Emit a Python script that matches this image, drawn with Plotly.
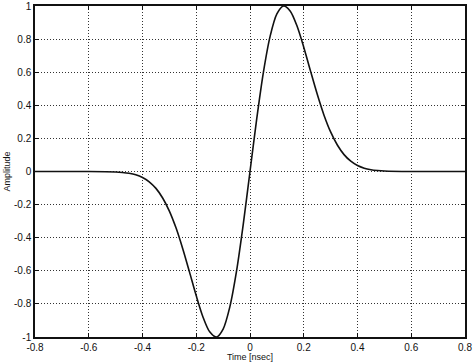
import plotly.graph_objects as go

# Time samples [nsec] and amplitude
time_ns = [-0.8, -0.7, -0.6, -0.5, -0.475, -0.45, -0.425, -0.4, -0.375, -0.35, -0.325, -0.3,
           -0.275, -0.25, -0.225, -0.2, -0.175, -0.15, -0.125, -0.1, -0.075, -0.05, -0.025,
           0.0, 0.025, 0.05, 0.075, 0.1, 0.125, 0.15, 0.175, 0.2, 0.225, 0.25, 0.275, 0.3,
           0.325, 0.35, 0.375, 0.4, 0.425, 0.45, 0.475, 0.5, 0.6, 0.7, 0.8]
amplitude = [0.0, 0.0, 0.0, -0.003, -0.006, -0.011, -0.020, -0.036, -0.062, -0.102, -0.160, -0.239,
             -0.342, -0.468, -0.608, -0.751, -0.879, -0.969, -1.0, -0.952, -0.818, -0.601, -0.318,
             0.0, 0.318, 0.601, 0.818, 0.952, 1.0, 0.969, 0.879, 0.751, 0.608, 0.468, 0.342, 0.239,
             0.160, 0.102, 0.062, 0.036, 0.020, 0.011, 0.006, 0.003, 0.0, 0.0, 0.0]

x_ticks = [-0.8, -0.6, -0.4, -0.2, 0, 0.2, 0.4, 0.6, 0.8]
x_tick_labels = ["-0.8", "-0.6", "-0.4", "-0.2", "0", "0.2", "0.4", "0.6", "0.8"]
y_ticks = [-1, -0.8, -0.6, -0.4, -0.2, 0, 0.2, 0.4, 0.6, 0.8, 1]
y_tick_labels = ["-1", "-0.8", "-0.6", "-0.4", "-0.2", "0", "0.2", "0.4", "0.6", "0.8", "1"]

fig = go.Figure()
fig.add_trace(go.Scatter(x=time_ns, y=amplitude, mode="lines",
                         line=dict(color="#111111", width=1.6, shape="spline", smoothing=0.8),
                         showlegend=False, hoverinfo="skip"))

font = dict(family="Liberation Sans, Arial, sans-serif", size=10, color="#111111")
axis_common = dict(showline=True, linecolor="#111111", linewidth=1.5, mirror="ticks",
                   ticks="inside", ticklen=4, tickcolor="#111111", tickwidth=1,
                   showgrid=True, gridcolor="#333333", gridwidth=1, griddash="1px,2px",
                   zeroline=False, tickfont=font, automargin=False)

fig.update_layout(
    width=474, height=362,
    margin=dict(l=35, r=9, t=6, b=25),
    paper_bgcolor="white", plot_bgcolor="white",
    font=font,
    xaxis=dict(range=[-0.8, 0.8], tickvals=x_ticks, ticktext=x_tick_labels,
               title=dict(text="Time [nsec]", font=dict(size=9, family=font["family"], color="#111111"),
                          standoff=0),
               **axis_common),
    yaxis=dict(range=[-1, 1], tickvals=y_ticks, ticktext=y_tick_labels,
               title=dict(text="Amplitude", font=dict(size=9, family=font["family"], color="#111111"),
                          standoff=2),
               **axis_common),
)

fig.write_html("out.html", config={"displayModeBar": False},
               post_script="document.body.style.margin='0px';")
